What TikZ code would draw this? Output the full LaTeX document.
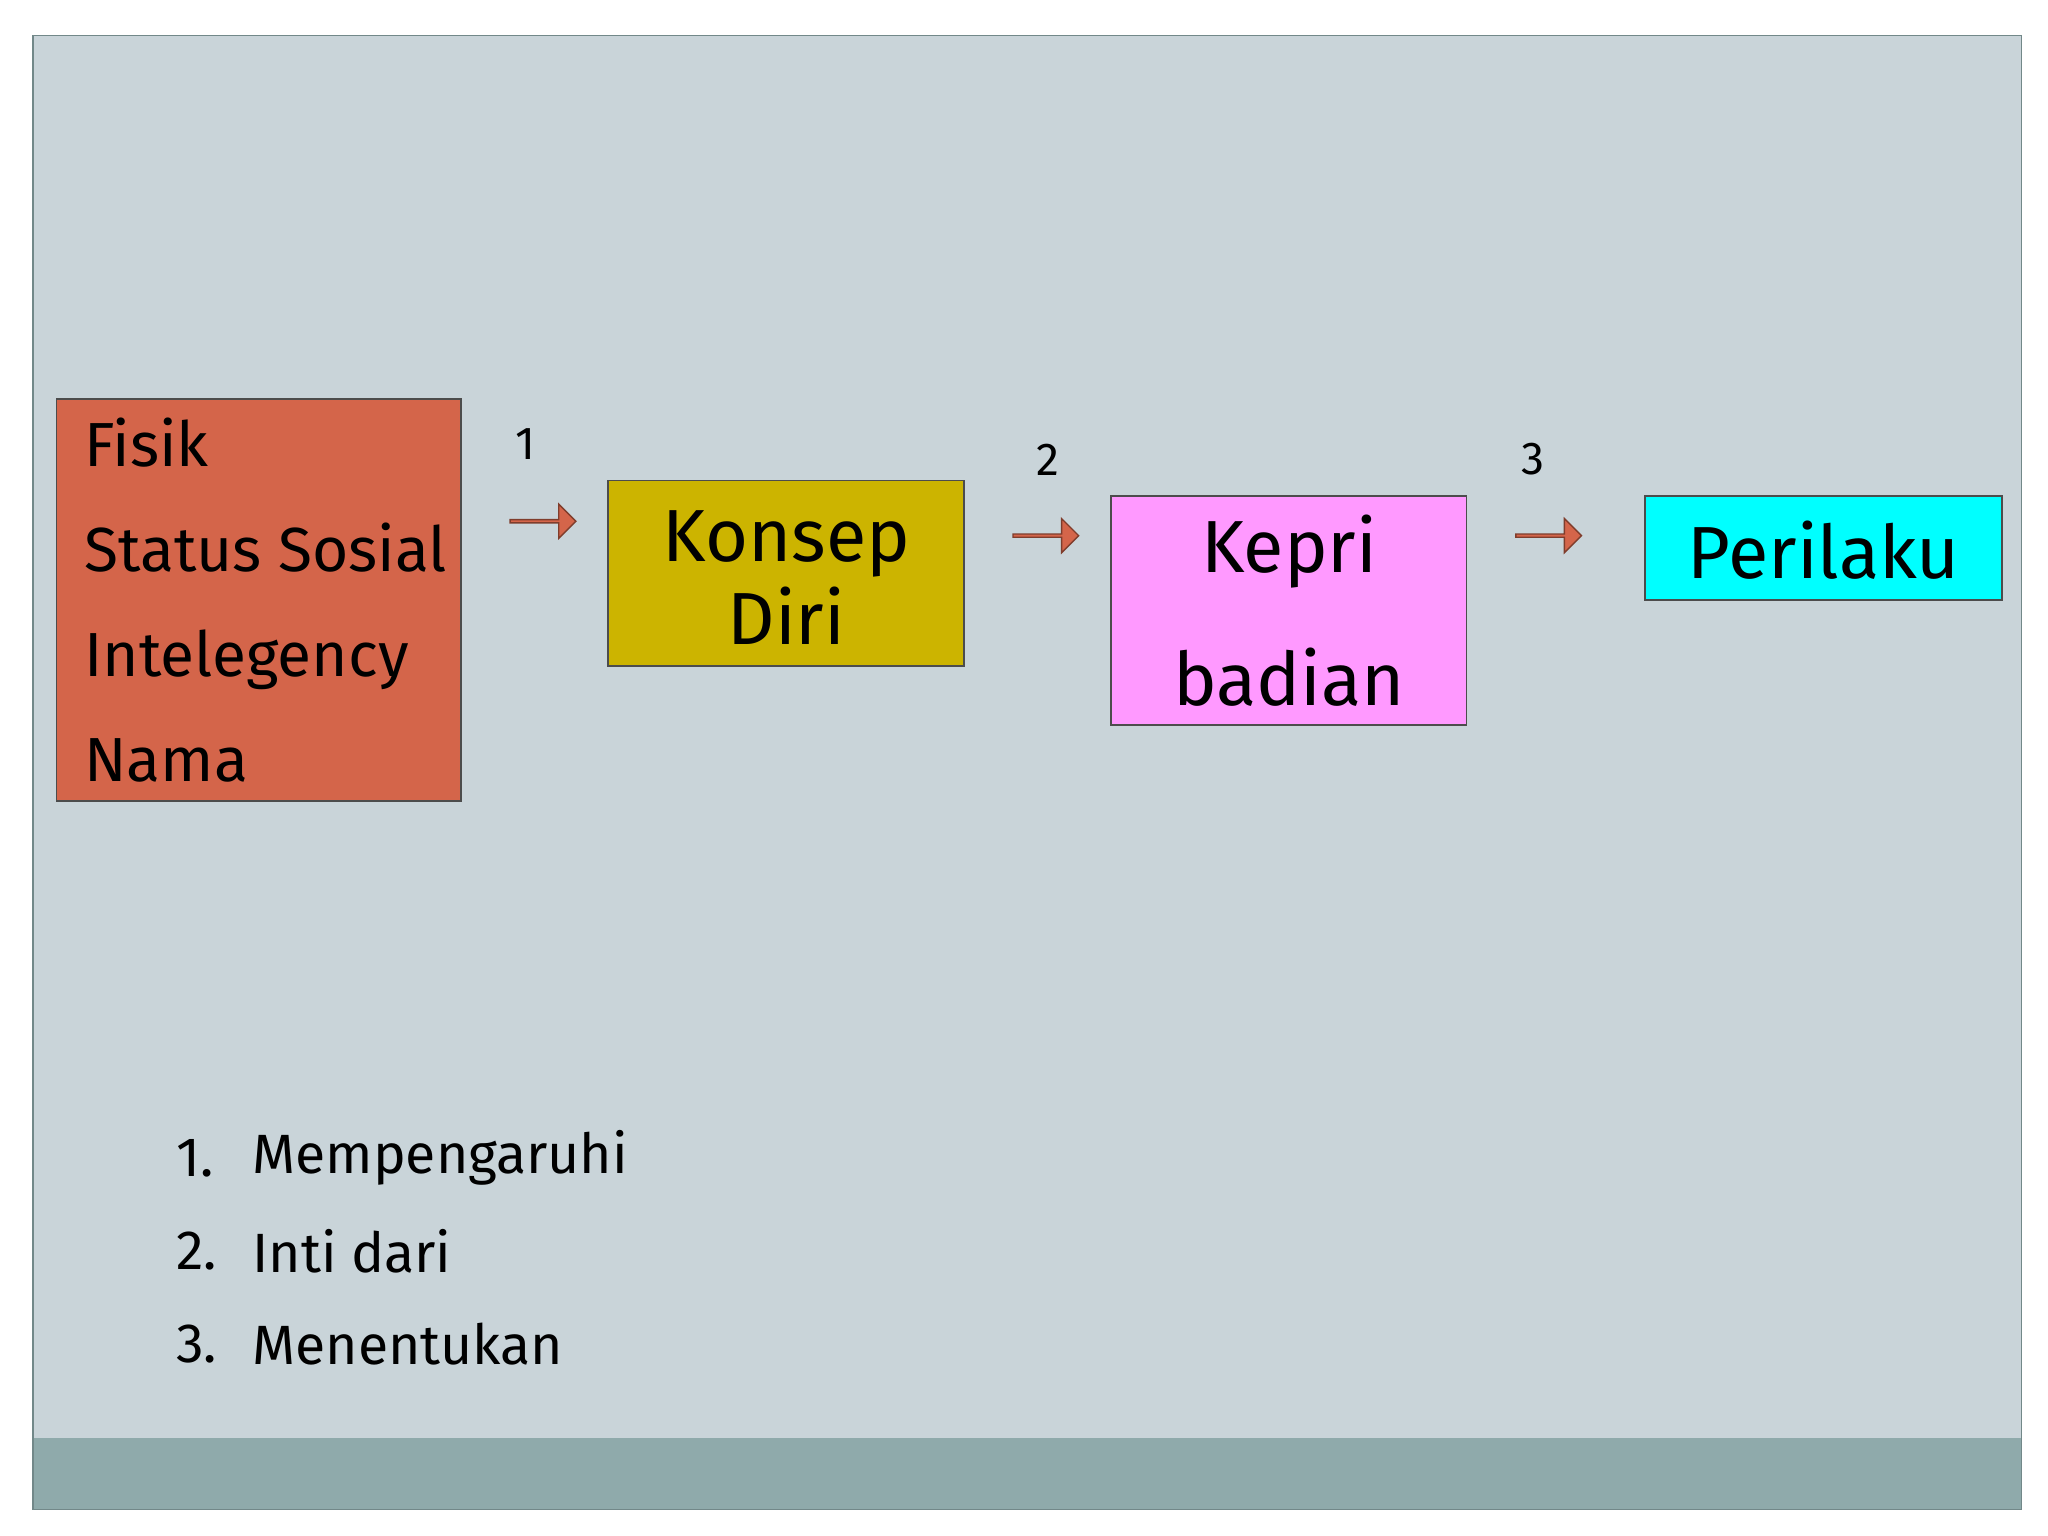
\documentclass[tikz,border=0pt]{standalone}
\usepackage{fontspec}
\setmainfont{Fira Sans}
\usetikzlibrary{shapes.arrows}
\definecolor{bg}{HTML}{C9D4D9}
\definecolor{band}{HTML}{8FAAAB}
\definecolor{brick}{HTML}{D4654A}
\definecolor{olive}{HTML}{CCB400}
\definecolor{pinkb}{HTML}{FF99FF}
\definecolor{cyanb}{HTML}{00FFFF}
\begin{document}
\begin{tikzpicture}[x=0.02cm,y=-0.02cm,
  box/.style={draw=black!70,line width=0.8pt,inner sep=0},
  arr/.style={single arrow,draw=brick!60!black,fill=brick,minimum width=26*0.02cm,minimum height=50*0.02cm,single arrow head extend=5*0.02cm,inner sep=0,line width=0.6pt},
  lbl/.style={font=\fontsize{20}{24}\selectfont},
  itm/.style={font=\fontsize{24}{28}\selectfont,anchor=west}]
\useasboundingbox (0,0) rectangle (1560,1170);
\fill[white] (0,0) rectangle (1560,1170);
\fill[bg] (25,27) rectangle (1540,1150);
\fill[band] (25,1095) rectangle (1540,1150);
\draw[band!80!black,line width=0.6pt] (25,27) rectangle (1540,1150);
\draw[box,fill=brick] (43,304) rectangle (351,610);
\node[anchor=base west,font=\fontsize{27}{30}\selectfont] (f1) at (58,355) {Fisik};
\node[anchor=base west,font=\fontsize{27}{30}\selectfont] (f2) at (58,435) {Status Sosial};
\node[anchor=base west,font=\fontsize{27}{30}\selectfont] (f3) at (58,515) {Intelegency};
\node[anchor=base west,font=\fontsize{27}{30}\selectfont] (f4) at (58,595) {Nama};
\draw[box,fill=olive] (463,366) rectangle (734,507);
\node[align=center,font=\fontsize{32}{36}\selectfont] (b2) at (599,440) {Konsep\\Diri};
\draw[box,fill=pinkb] (846,378) rectangle (1117,552);
\node[font=\fontsize{32}{36}\selectfont] (b3a) at (982,420) {Kepri};
\node[font=\fontsize{32}{36}\selectfont] (b3b) at (982,516) {badian};
\draw[box,fill=cyanb] (1253,378) rectangle (1525,457);
\node[font=\fontsize{32}{36}\selectfont] (b4) at (1389,419) {Perilaku};
\node[lbl] (n1) at (400,338) {1};
\node[lbl] (n2) at (798,350) {2};
\node[lbl] (n3) at (1168,350) {3};
\node[arr] (a1) at (413,397) {};
\node[arr] (a2) at (796,408) {};
\node[arr] (a3) at (1179,408) {};
\node[itm] (l1n) at (128,882) {1.};
\node[itm] (l1) at (186,882) {Mempengaruhi};
\node[itm] (l2n) at (128,953) {2.};
\node[itm] (l2) at (186,953) {Inti dari};
\node[itm] (l3n) at (128,1024) {3.};
\node[itm] (l3) at (186,1024) {Menentukan};
\end{tikzpicture}
\end{document}
